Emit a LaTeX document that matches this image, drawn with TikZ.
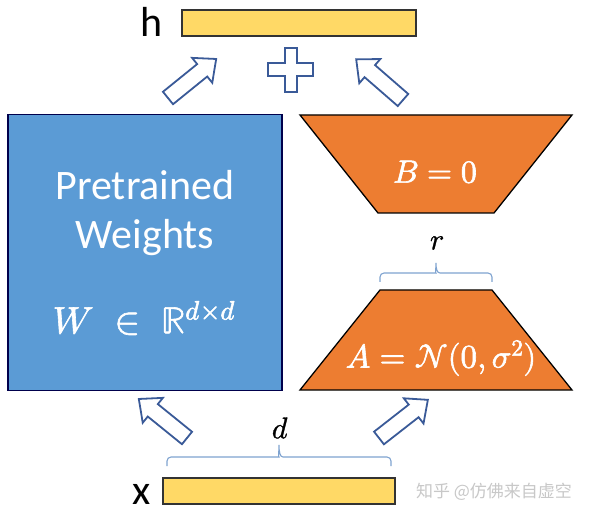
\documentclass[tikz,border=0pt]{standalone}
\usepackage{fontspec}
\usepackage{unicode-math}
\setmainfont{Carlito}
\newfontfamily\cjk{Noto Sans CJK SC}
\newcommand\heavier[2][0.6]{\special{pdf:literal direct 2 Tr #1 w}#2\special{pdf:literal direct 0 Tr}}
\definecolor{wblue}{HTML}{5B9BD5}
\definecolor{aorange}{HTML}{ED7D31}
\definecolor{bary}{HTML}{FFD966}
\definecolor{arrowc}{HTML}{3A5A98}
\definecolor{bracec}{HTML}{7FA3D0}
\definecolor{wmark}{HTML}{C8C8C8}
\tikzset{
  bar/.style={draw=black!80, line width=1.3pt, fill=bary, inner sep=0pt},
  wbox/.style={draw=black!70!blue, line width=1.2pt, fill=wblue, inner sep=0pt, minimum width=274, minimum height=276},
  trap/.style={draw=black, line width=1.3pt, fill=aorange},
  arrowline/.style={draw=arrowc, line width=1.8pt, fill=white, line join=miter},
  brc/.style={draw=bracec, line width=1.1pt},
  lab/.style={inner sep=0pt, font=\fontsize{42}{46}\selectfont},
  wtext/.style={inner sep=0pt, text=white, font=\fontsize{42}{48}\selectfont},
  mtext/.style={inner sep=0pt, text=white, font=\fontsize{32}{38}\selectfont},
  blab/.style={inner sep=0pt, font=\fontsize{30}{34}\selectfont},
  blockarrow/.pic={\path[arrowline] (0,-8) -- (44,-8) -- (44,-16) -- (62,0) -- (44,16) -- (44,8) -- (0,8) -- cycle;}
}
\begin{document}
\begin{tikzpicture}[x=1pt,y=-1pt]
\path[use as bounding box, fill=white] (0,0) rectangle (590,516);
% bars
\node[bar, minimum width=234, minimum height=26] (h) at (299,23) {};
\node[lab] (hl) at (152,22) {h};
\node[bar, minimum width=232, minimum height=26] (x) at (279,491) {};
\node[lab] (xl) at (142,494) {x};
% pretrained weights
\node[wbox] (W) at (145,252.5) {};
\node[wtext] (t1) at (145,185) {Pretrained};
\node[wtext] (t2) at (145,238) {Weights};
\node[mtext, font=\fontsize{38}{42}\selectfont] (t3) at (144,318) {\heavier{$W\;\in\;\mathbb{R}^{d\times d}$}};
% trapezoids
\path[trap] (300,115) -- (572,115) -- (494,213) -- (378,213) -- cycle;
\node[mtext] (B) at (435,172) {\heavier{$B=0$}};
\path[trap] (380,290) -- (492,290) -- (572,390) -- (300,390) -- cycle;
\node[mtext, font=\fontsize{33}{38}\selectfont] (A) at (441,358) {\heavier{$A=\mathcal{N}(0,\sigma^2)$}};
% plus
\path[arrowline] (285,48) -- (297,48) -- (297,63) -- (313,63) -- (313,76) -- (297,76) -- (297,92) -- (285,92) -- (285,76) -- (268,76) -- (268,63) -- (285,63) -- cycle;
% block arrows
\pic[rotate=39] at (168,98) {blockarrow};
\pic[rotate=139] at (403,100) {blockarrow};
\pic[rotate=141] at (187,438) {blockarrow};
\pic[rotate=38] at (379,438) {blockarrow};
% braces
\draw[brc] (380,282) [rounded corners=4] |- (432,273) [sharp corners] .. controls (435,273) and (436,269) .. (436,263) .. controls (436,269) and (437,273) .. (440,273) [rounded corners=4] -| (492,282);
\node[blab] (r) at (437,243) {\heavier[0.3]{$r$}};
\draw[brc] (167,466) [rounded corners=4] |- (275,457) [sharp corners] .. controls (278,457) and (279,452) .. (279,445) .. controls (279,452) and (280,457) .. (283,457) [rounded corners=4] -| (391,466);
\node[blab] (d) at (280,428) {\heavier[0.3]{$d$}};
% watermark
\node[inner sep=0pt, text=wmark, font=\cjk\fontsize{17}{20}\selectfont] (wm) at (494,492) {知乎 @仿佛来自虚空};
\end{tikzpicture}
\end{document}
